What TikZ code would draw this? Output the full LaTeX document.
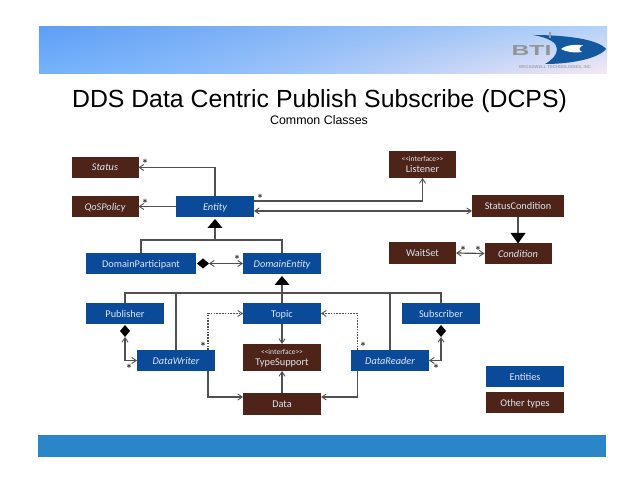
\documentclass[tikz,border=0pt]{standalone}
\usepackage{fontspec}
\setmainfont{Liberation Sans}
\newfontfamily\boxfont{Carlito}
\usetikzlibrary{arrows.meta,shapes.geometric}
\definecolor{entblue}{HTML}{0A4A98}
\definecolor{othbrown}{HTML}{4E2418}
\definecolor{linegray}{HTML}{505050}
\definecolor{boxtext}{HTML}{DCE6F2}
\definecolor{footblue}{HTML}{2A85C9}
\definecolor{bandTL}{HTML}{5F9EF5}
\definecolor{bandTR}{HTML}{B4D2F8}
\definecolor{bandBL}{HTML}{76B4FC}
\definecolor{bandBR}{HTML}{F6E8F4}
\definecolor{logoblue}{HTML}{14589F}
\tikzset{
 cls/.style={inner sep=0pt,outer sep=0pt,align=center,text=boxtext,font=\boxfont\fontsize{10.3}{12}\selectfont,draw=none,text depth=0pt,yshift=0pt},
 ent/.style={cls,fill=entblue,minimum width=78pt,minimum height=21.5pt},
 oth/.style={cls,fill=othbrown,minimum width=67pt,minimum height=21.5pt},
 abs/.style={font=\boxfont\itshape\fontsize{10.3}{12}\selectfont},
 conn/.style={draw=linegray,line width=1.2pt},
 tip/.style={-{Straight Barb[length=4.5pt,width=6pt,line width=0.9pt]}},
 bitip/.style={{Straight Barb[length=4.5pt,width=6pt,line width=0.9pt]}-{Straight Barb[length=4.5pt,width=6pt,line width=0.9pt]}},
 dashline/.style={dash pattern=on 1.6pt off 1.2pt,line width=1.2pt},
 mult/.style={font=\boxfont\bfseries\fontsize{13}{13}\selectfont,text=black!80,inner sep=0pt},
}
\begin{document}
\begin{tikzpicture}[x=1pt,y=-1pt]
\useasboundingbox (0,0) rectangle (638,478);
% header band and footer
\foreach \i in {0,...,70}{
  \pgfmathsetmacro{\pa}{\i/70*100}
  \pgfmathsetmacro{\pb}{100*(\i/70)^1.4}
  \pgfmathsetmacro{\xa}{39+\i*8}
  \pgfmathsetmacro{\xb}{min(607,39+\i*8+8.5)}
  \colorlet{tc}{bandTR!\pa!bandTL}
  \colorlet{bc}{bandBR!\pb!bandBL}
  \shade[top color=tc,bottom color=bc] (\xa,27) rectangle (\xb,74);
}
\fill[footblue] (38,435) rectangle (606,457);
% logo
\fill[logoblue] (533,35) .. controls (565,35) and (598,39) .. (606,49) .. controls (598,59) and (570,64) .. (545,64) .. controls (552,60) and (557,55) .. (557,49) .. controls (557,43) and (550,38) .. (533,35) -- cycle;
\fill[white] (561,49) .. controls (566,45) and (576,44) .. (583,45.5) .. controls (579,47) and (578,50) .. (582,52) .. controls (574,53) and (566,52) .. (561,49) -- cycle;
\fill[black!40] (549,32) rectangle (551,38);
\node[font=\bfseries\fontsize{14.5}{15}\selectfont,text=black!42,inner sep=0pt,xscale=1.7] (bti) at (531.5,50.5) {BTI};
\node[font=\bfseries\fontsize{4.2}{5}\selectfont,text=black!35,inner sep=0pt] (btisub) at (555,67) {BROADWELL TECHNOLOGIES, INC};
% titles
\node[font=\fontsize{24.8}{28}\selectfont,inner sep=0pt,text depth=0pt,anchor=base] (title) at (319.5,108) {DDS Data Centric Publish Subscribe (DCPS)};
\node[font=\fontsize{12.4}{14}\selectfont,inner sep=0pt] (subtitle) at (319,120) {Common Classes};
% classes
\node[oth,abs] (status) at (105,167.5) {Status};
\node[oth,abs] (qos) at (105,206.5) {QoSPolicy};
\node[ent,abs] (entity) at (215,206.5) {Entity};
\node[ent,minimum width=110pt] (dp) at (141,263.5) {DomainParticipant};
\node[ent,abs] (de) at (282,263.5) {DomainEntity};
\node[oth,minimum height=27pt] (listener) at (422.5,164.5) {{\fontsize{7.5}{9}\selectfont<<interface>>}\\[-1pt]Listener};
\node[oth,minimum width=92pt] (sc) at (518,206) {StatusCondition};
\node[oth] (waitset) at (422.5,253) {WaitSet};
\node[oth,abs] (cond) at (518,253.5) {Condition};
\node[ent] (pub) at (125,313.5) {Publisher};
\node[ent,abs] (dw) at (176,360.5) {DataWriter};
\node[ent] (topic) at (282,313.5) {Topic};
\node[oth,minimum width=78pt,minimum height=27pt] (ts) at (282,357.5) {{\fontsize{7.5}{9}\selectfont<<interface>>}\\[-1pt]TypeSupport};
\node[oth,minimum width=78pt] (data) at (282,404) {Data};
\node[ent] (sub) at (441,313.5) {Subscriber};
\node[ent,abs] (dr) at (390,360.5) {DataReader};
\node[ent] (lent) at (525,376.5) {Entities};
\node[oth,minimum width=78pt] (loth) at (525,402.5) {Other types};
% junction coordinates
\coordinate (bus1) at (215,240);
\coordinate (bus2) at (282,293);
\coordinate (triEb) at (215,228);
\coordinate (triDb) at (282,285);
\coordinate (triCb) at (518,233);
\coordinate (diaDPe) at (209,263.5);
\coordinate (diaPb) at (125,337);
\coordinate (diaSb) at (441,337);
\coordinate (edgeA) at (254,201);
\coordinate (edgeB) at (254,211);
\coordinate (scW) at (472,211);
\coordinate (dwTop) at (208,350);
\coordinate (dwBot) at (208,371);
\coordinate (drTop) at (357.5,350);
\coordinate (drBot) at (357.5,371);
\coordinate (dataL) at (243,397);
\coordinate (dataR) at (321,397);
% connectors
\draw[conn,tip] (entity.north) |- (status.east);
\draw[conn,tip] (entity.west) -- (qos.east);
\draw[conn,tip] (edgeA) -| (listener.south);
\draw[conn,bitip] (edgeB) -- (scW);
\draw[conn] (triEb) -- (bus1);
\draw[conn] (dp.north) |- (bus1) -| (de.north);
\draw[conn,bitip] (diaDPe) -- (de.west);
\draw[conn] (sc.south) -- (triCb);
\draw[conn,bitip] (waitset.east) -- (cond.west);
\draw[conn] (triDb) -- (topic.north);
\draw[conn] (pub.north) |- (bus2) -| (sub.north);
\draw[conn] (dw.north) -- (dw.north |- bus2);
\draw[conn] (dr.north) -- (dr.north |- bus2);
\draw[conn,tip] (topic.south) -- (ts.north);
\draw[conn,tip] (data.north) -- (ts.south);
\draw[conn,bitip] (diaPb) |- (dw.west);
\draw[conn,bitip] (diaSb) |- (dr.east);
\draw[conn,dashline,tip] (dwTop) |- (topic.west);
\draw[conn,dashline,tip] (drTop) |- (topic.east);
\draw[conn,tip] (dwBot) |- (dataL);
\draw[conn,tip] (drBot) |- (dataR);
% generalisation triangles
\fill (215,219) -- (222.5,228) -- (207.5,228) -- cycle;
\fill (282,276) -- (289.5,285) -- (274.5,285) -- cycle;
\fill (518,243.5) -- (525.5,233) -- (510.5,233) -- cycle;
% composition diamonds
\fill (197,263.5) -- (203,258.5) -- (209,263.5) -- (203,268.5) -- cycle;
\fill (125,325) -- (130,331) -- (125,337) -- (120,331) -- cycle;
\fill (441,325) -- (446,331) -- (441,337) -- (436,331) -- cycle;
% multiplicities
\node[mult] (m1) at (145,164) {*};
\node[mult] (m2) at (145,204) {*};
\node[mult] (m3) at (260,199) {*};
\node[mult] (m4) at (237,260) {*};
\node[mult] (m5) at (463,251) {*};
\node[mult] (m6) at (478,251) {*};
\node[mult] (m7) at (129,369) {*};
\node[mult] (m8) at (203,347) {*};
\node[mult] (m9) at (363,347) {*};
\node[mult] (m10) at (436,369) {*};
\end{tikzpicture}
\end{document}
